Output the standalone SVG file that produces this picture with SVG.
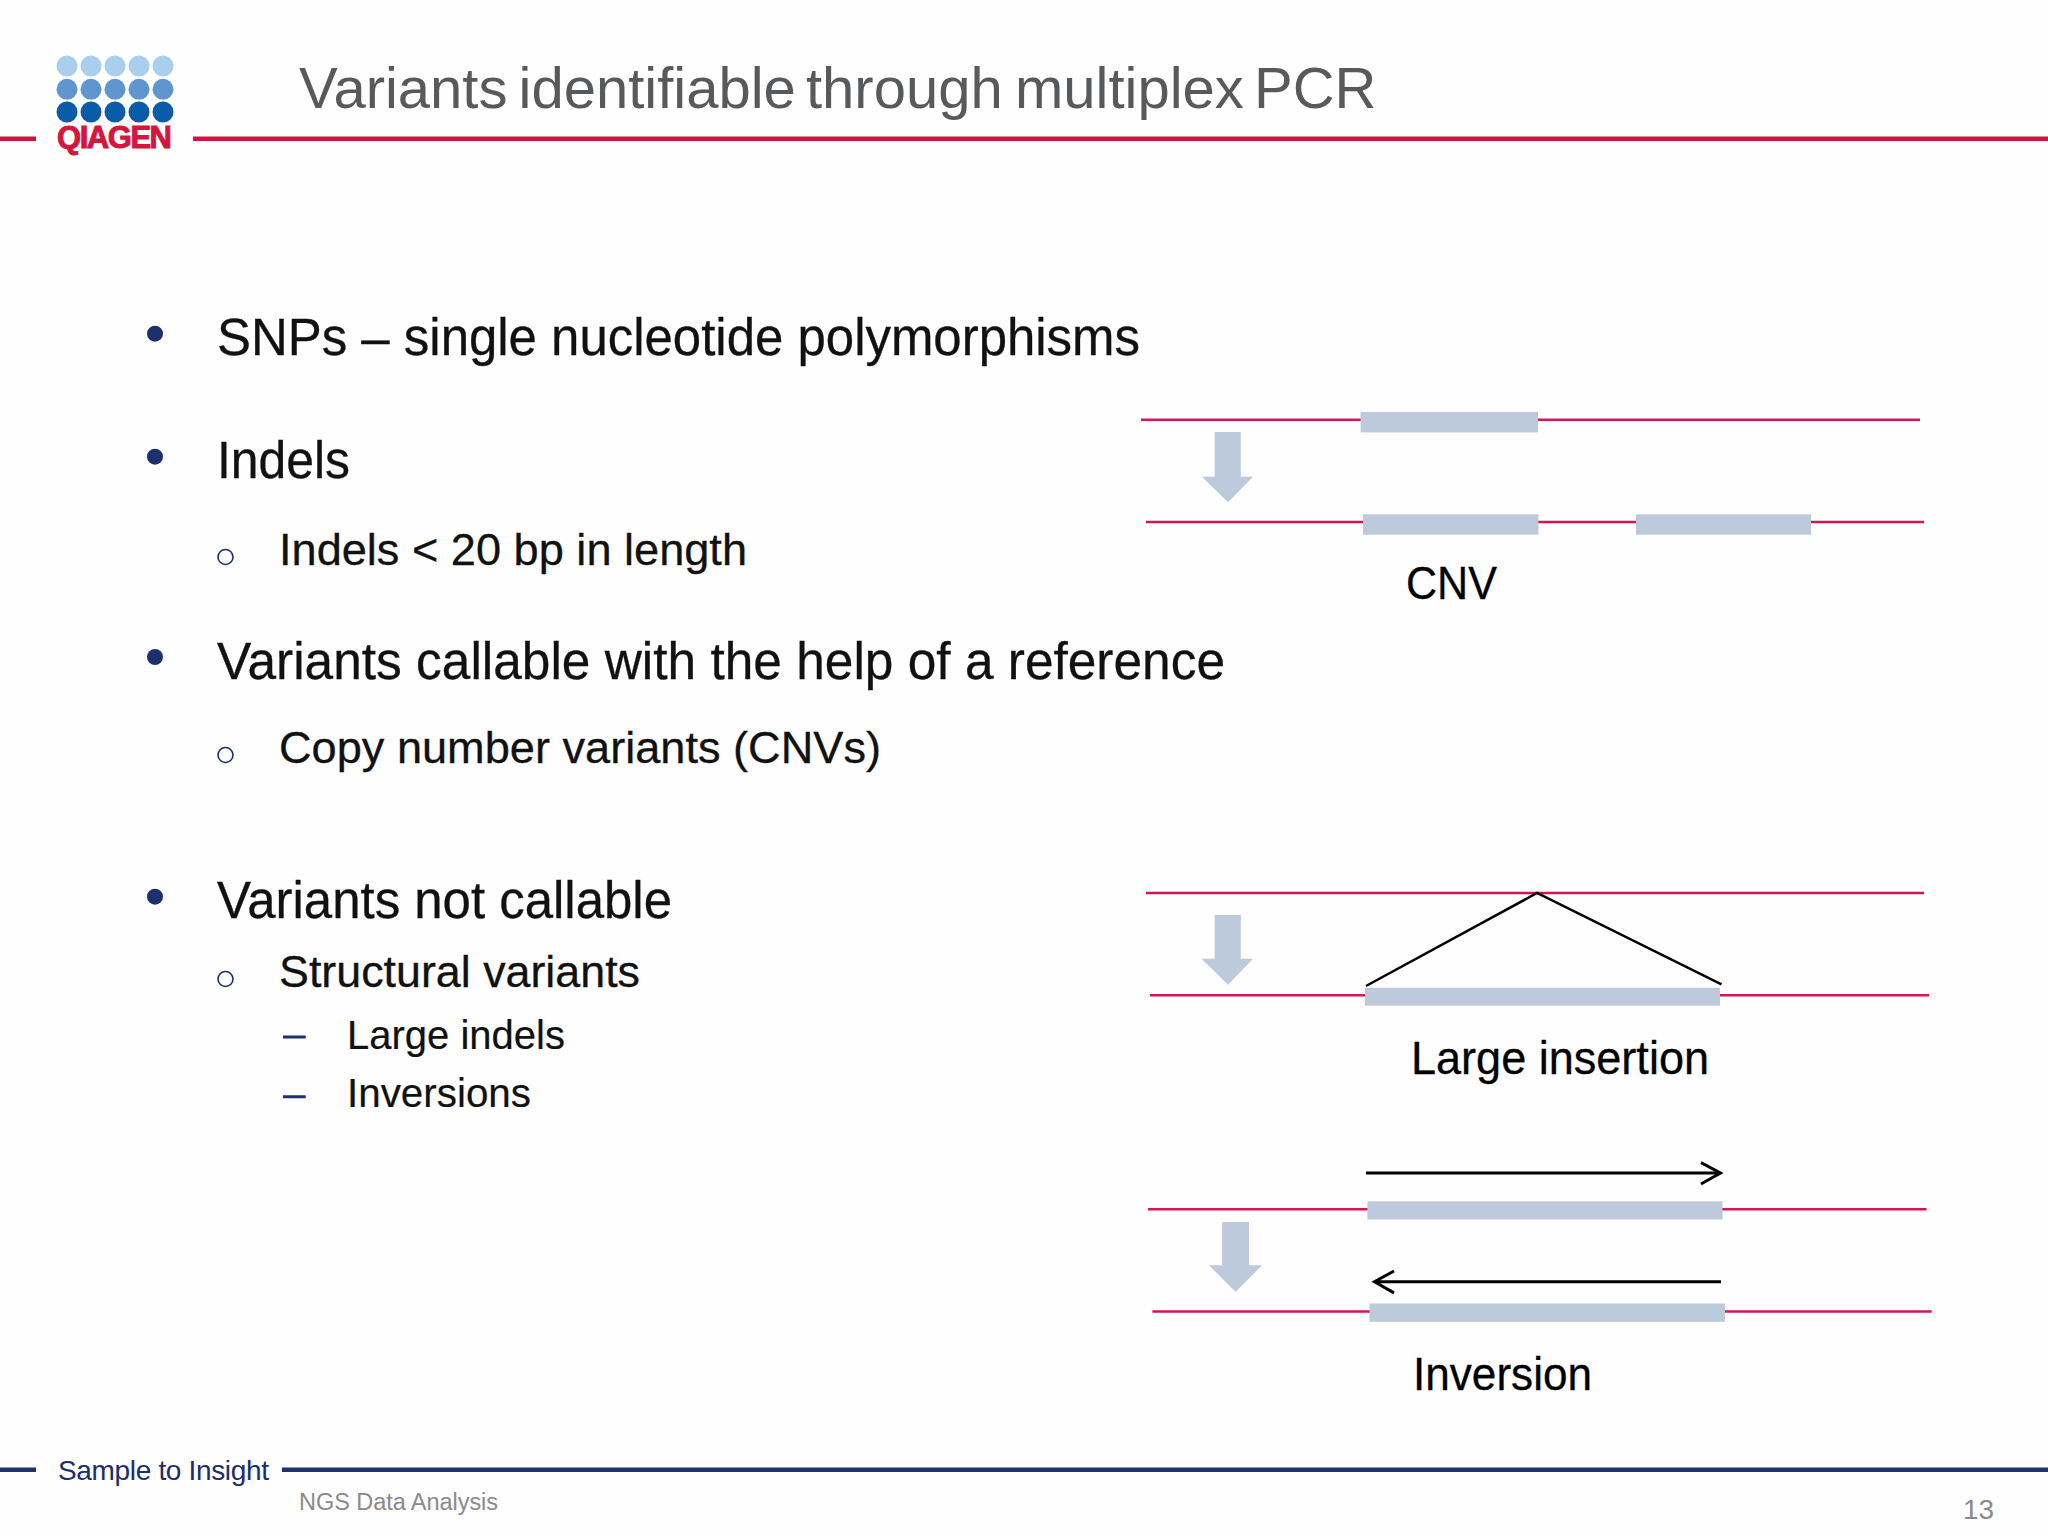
<svg xmlns="http://www.w3.org/2000/svg" width="2048" height="1536" viewBox="0 0 2048 1536">
<style>
text{font-family:"Liberation Sans",Arial,sans-serif}
.red{stroke:#d4164e;stroke-width:2.5;fill:none}
.blk{fill:#bccadc}
.ar{fill:#bccadc}
.bk{stroke:#000;stroke-width:2.5;fill:none}
.bk3{stroke:#000;stroke-width:3;fill:none}
.b1{font-size:51px;fill:#111;stroke:#111;stroke-width:.3}
.b2{font-size:45px;fill:#111;stroke:#111;stroke-width:.3}
.b3{font-size:41px;fill:#111;stroke:#111;stroke-width:.2}
.lab{font-size:46px;fill:#000;stroke:#000;stroke-width:.3}
.bu{fill:#1c2f6e}
.so{fill:#fff;stroke:#1c2f6e;stroke-width:1.6}
.da{stroke:#1c2f6e;stroke-width:3;fill:none}
</style>
<rect width="2048" height="1536" fill="#fefefe"/>
<g id="logo">
<g fill="#a9cfee"><circle cx="67" cy="66" r="10.5"/><circle cx="91" cy="66" r="10.5"/><circle cx="115" cy="66" r="10.5"/><circle cx="139" cy="66" r="10.5"/><circle cx="163" cy="66" r="10.5"/></g>
<g fill="#5f96cf"><circle cx="67" cy="89.300" r="10.5"/><circle cx="91" cy="89.300" r="10.5"/><circle cx="115" cy="89.300" r="10.5"/><circle cx="139" cy="89.300" r="10.5"/><circle cx="163" cy="89.300" r="10.5"/></g>
<g fill="#0a5ca8"><circle cx="67" cy="112" r="10.5"/><circle cx="91" cy="112" r="10.5"/><circle cx="115" cy="112" r="10.5"/><circle cx="139" cy="112" r="10.5"/><circle cx="163" cy="112" r="10.5"/></g>
<text x="57" y="148" font-size="31" font-weight="700" fill="#d4163f" stroke="#d4163f" stroke-width="1" textLength="115">QIAGEN</text>
</g>
<g id="frame">
<path d="M0 138.7H36M193 138.7H2048" stroke="#d4123f" stroke-width="4.5" fill="none"/>
<path d="M0 1469.7H36M282 1469.7H2048" stroke="#1f3270" stroke-width="4.5" fill="none"/>
</g>
<text id="title" y="108" font-size="58" fill="#58595b"><tspan x="299">Variants </tspan><tspan x="518.500">identifiable </tspan><tspan x="806">through </tspan><tspan x="1015">multiplex </tspan><tspan x="1254">PCR</tspan></text>
<g id="body">
<circle class="bu" cx="155" cy="333.700" r="8"/>
<text class="b1" x="217" y="355" textLength="923" lengthAdjust="spacingAndGlyphs">SNPs – single nucleotide polymorphisms</text>
<circle class="bu" cx="155" cy="456.700" r="8"/>
<text class="b1" x="217" y="478" textLength="133" lengthAdjust="spacingAndGlyphs">Indels</text>
<circle class="so" cx="225.500" cy="557" r="7.500"/>
<text class="b2" x="279" y="565" textLength="468" lengthAdjust="spacingAndGlyphs">Indels &lt; 20 bp in length</text>
<circle class="bu" cx="155" cy="657" r="8"/>
<text class="b1" x="217" y="679" textLength="1008" lengthAdjust="spacingAndGlyphs">Variants callable with the help of a reference</text>
<circle class="so" cx="225.500" cy="755" r="7.500"/>
<text class="b2" x="279" y="763" textLength="602" lengthAdjust="spacingAndGlyphs">Copy number variants (CNVs)</text>
<circle class="bu" cx="155" cy="896.700" r="8"/>
<text class="b1" x="217" y="918" textLength="455" lengthAdjust="spacingAndGlyphs">Variants not callable</text>
<circle class="so" cx="225.500" cy="979" r="7.500"/>
<text class="b2" x="279" y="987" textLength="361" lengthAdjust="spacingAndGlyphs">Structural variants</text>
<path class="da" d="M283 1037H305.700M283 1096.700H305.700"/>
<text class="b3" x="347" y="1049" textLength="218" lengthAdjust="spacingAndGlyphs">Large indels</text>
<text class="b3" x="347" y="1107" textLength="184" lengthAdjust="spacingAndGlyphs">Inversions</text>
</g>
<g id="connectors">
<path class="red" d="M1141 419.700H1920M1146 522H1924M1146 893H1924M1150 995.300H1929M1148 1209.200H1926.500M1152.400 1311.500H1931.700"/>
<path class="bk" d="M1366 986L1537 893L1721.500 984.300"/>
<path class="bk3" d="M1366 1173H1720M1701 1162.700L1720.500 1173L1701 1184"/>
<path class="bk3" d="M1721 1281.800H1375M1394 1271L1374.500 1281.800L1394 1292.900"/>
</g>
<g id="cnv">
<rect class="blk" x="1360.600" y="412" width="177.400" height="20.400"/>
<rect class="blk" x="1363" y="514.300" width="175.400" height="20.400"/>
<rect class="blk" x="1636" y="514.300" width="175" height="20.400"/>
<path class="ar" d="M1214.700 432H1240.800V476.700H1253L1228 502.300L1202 476.700H1214.700Z"/>
<text class="lab" x="1406" y="599" textLength="91" lengthAdjust="spacingAndGlyphs">CNV</text>
</g>
<g id="insertion">
<rect class="blk" x="1365" y="987.800" width="355" height="17.900"/>
<path class="ar" d="M1214.700 915H1240.800V958.800H1253L1228 984.700L1201.600 958.800H1214.700Z"/>
<text class="lab" x="1411" y="1074" textLength="298" lengthAdjust="spacingAndGlyphs">Large insertion</text>
</g>
<g id="inversion">
<rect class="blk" x="1367.400" y="1201.300" width="355.100" height="18.200"/>
<rect class="blk" x="1369.500" y="1303.500" width="355.500" height="18.300"/>
<path class="ar" d="M1222 1222H1249V1265.300H1262L1235.600 1291.800L1209 1265.300H1222Z"/>
<text class="lab" x="1413" y="1390" textLength="179" lengthAdjust="spacingAndGlyphs">Inversion</text>
</g>
<g id="footer">
<text x="58" y="1480" font-size="28" fill="#1c2d6b" textLength="211">Sample to Insight</text>
<text x="299" y="1510" font-size="23.500" fill="#8a8a8a" textLength="199">NGS Data Analysis</text>
<text x="1963" y="1519" font-size="28" fill="#8a8a8a" textLength="31">13</text>
</g>
</svg>
